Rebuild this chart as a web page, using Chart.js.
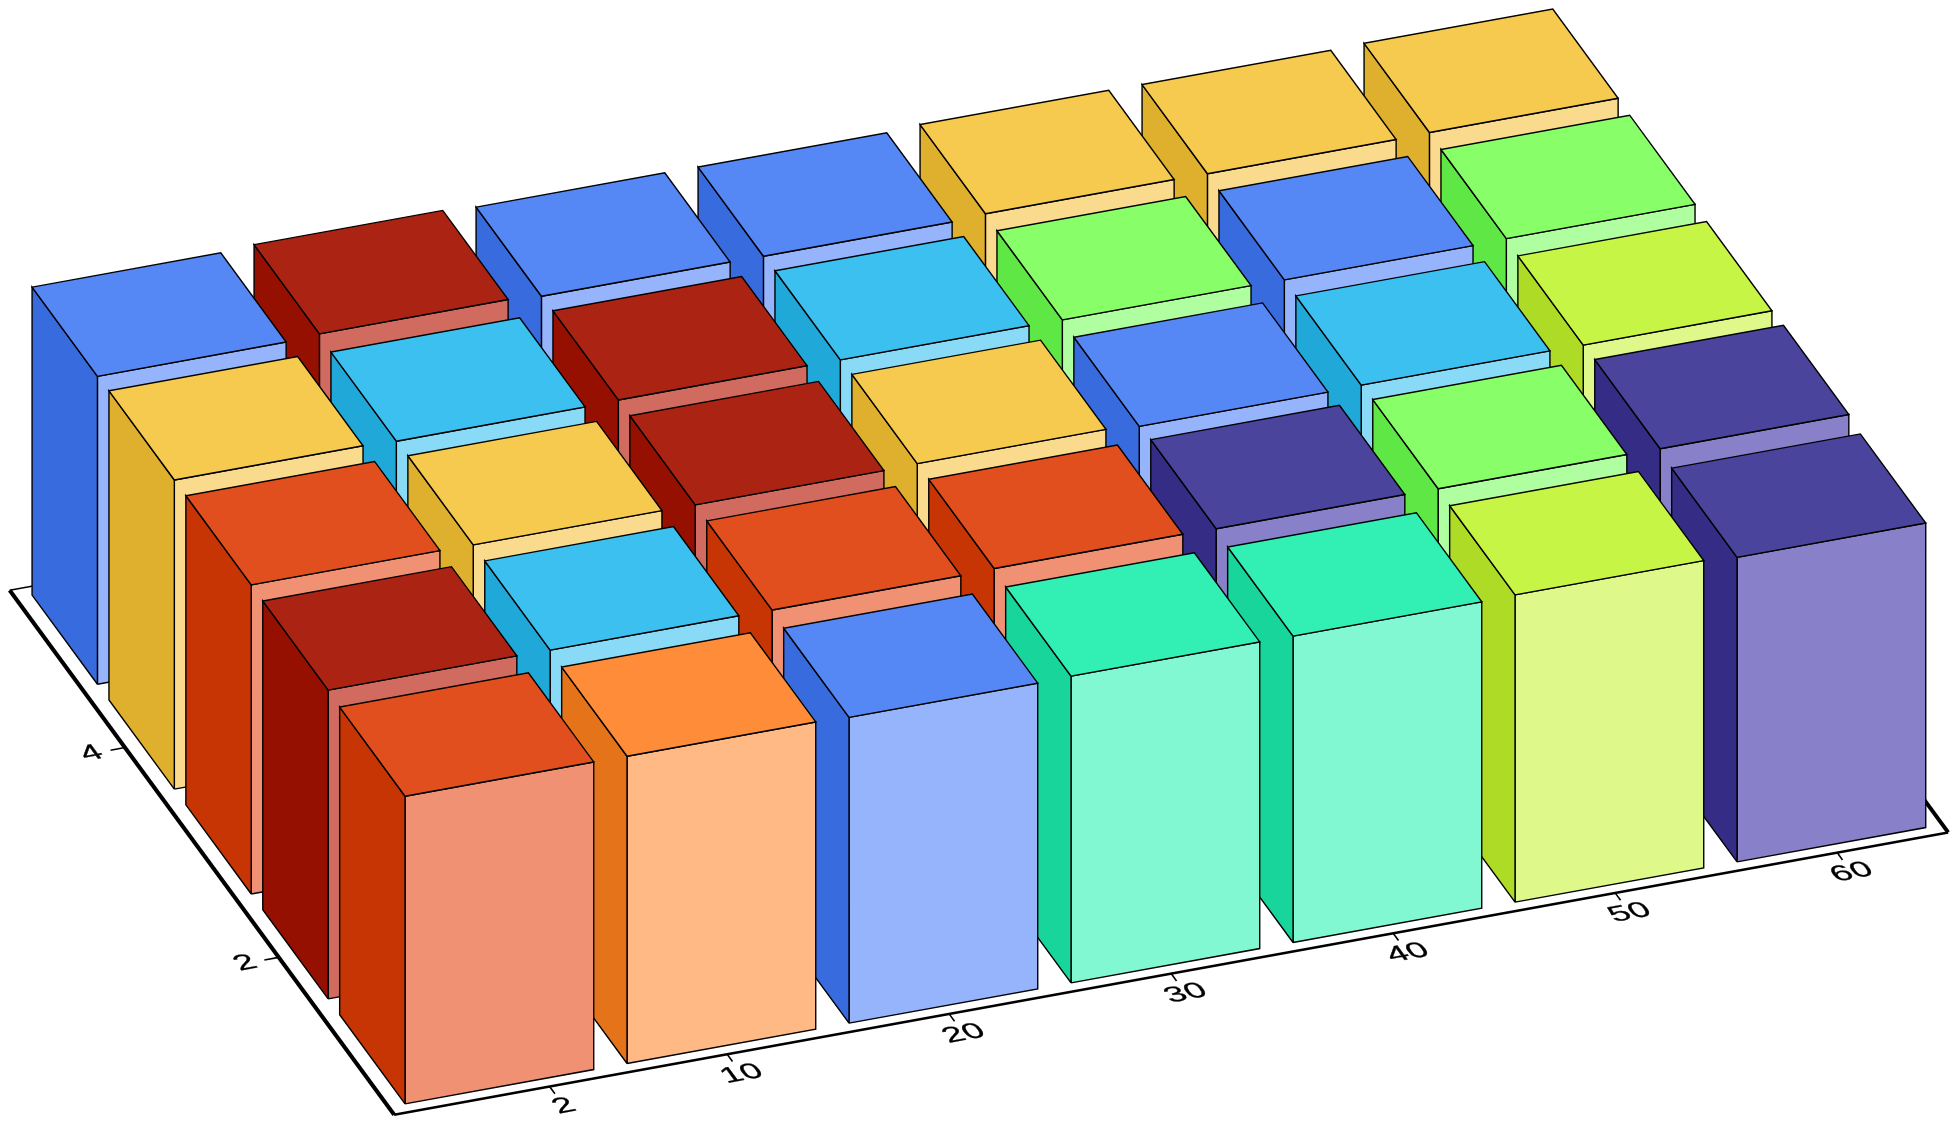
<!DOCTYPE html>
<html>
<head>
<meta charset="utf-8">
<style>
    html, body { margin: 0; padding: 0; background: #fff; }
    canvas { display: block; }
</style>
<script src="https://cdn.jsdelivr.net/npm/chart.js@4/dist/chart.umd.min.js"></script>
</head>
<body>
<canvas id="chart" width="1959" height="1125"></canvas>
<script>
// data
const xPositions = [0, 10, 20, 30, 40, 50, 60];
const yPositions = [1, 2, 3, 4, 5];
const xTicks = [2, 10, 20, 30, 40, 50, 60];
const yTicks = [2, 4];

// one row per y position (front to back)
const barHeights = [
    [0.998, 0.997, 0.992, 0.995, 0.994, 0.997, 0.988],
    [1.002, 1.001, 1.000, 1.004, 1.002, 1.001, 1.000],
    [1.003, 1.002, 1.001, 1.004, 0.994, 0.997, 0.996],
    [1.003, 0.998, 1.001, 1.000, 0.999, 0.998, 1.001],
    [0.999, 1.006, 0.997, 0.996, 1.003, 1.002, 1.005]
];
const barClasses = [
    ['red', 'orange', 'blue', 'teal', 'teal', 'lime', 'indigo'],
    ['maroon', 'cyan', 'red', 'red', 'indigo', 'green', 'indigo'],
    ['red', 'yellow', 'maroon', 'yellow', 'blue', 'cyan', 'lime'],
    ['yellow', 'cyan', 'maroon', 'cyan', 'green', 'blue', 'green'],
    ['blue', 'maroon', 'blue', 'blue', 'yellow', 'yellow', 'yellow']
];

// colours: top, left side, front
const faceColors = {
    blue:   ['#5588f5', '#386bde', '#96b4fb'],
    yellow: ['#f6c94f', '#dfb02e', '#fadb8d'],
    red:    ['#e14f1e', '#c73505', '#ef9172'],
    maroon: ['#ab2313', '#951000', '#d16a5f'],
    cyan:   ['#3cc0ef', '#1fa8d8', '#88daf7'],
    orange: ['#ff8c38', '#e4731a', '#ffb985'],
    teal:   ['#32efb4', '#18d69b', '#81f8d2'],
    green:  ['#88ff69', '#5fe745', '#afffa0'],
    lime:   ['#c6f546', '#aedb26', '#def98a'],
    indigo: ['#4a449c', '#342c85', '#8880c8']
};

// oblique view: where x, y and z units land on the page
const origin = [543.6, 1147];
const unitX = [22.2, -4.033];
const unitY = [-76.9, -104.9];
const unitZ = [0, -308.2];
const barWidth = 8.5;
const barDepth = 0.85;
const xRange = [-5, 65];
const yRange = [0.5, 5.5];

function project(x, y, z) {
    return {
        x: origin[0] + x * unitX[0] + y * unitY[0] + z * unitZ[0],
        y: origin[1] + x * unitX[1] + y * unitY[1] + z * unitZ[1]
    };
}

function polyline(points, opts) {
    return Object.assign({
        data: points,
        showLine: true,
        tension: 0,
        pointRadius: 0,
        pointHoverRadius: 0,
        borderColor: '#000',
        borderWidth: 1.4,
        fill: false
    }, opts);
}

function face(corners, color) {
    const pts = corners.map(c => project(c[0], c[1], c[2]));
    pts.push(pts[0]);
    return polyline(pts, { backgroundColor: color, fill: 'shape' });
}

function barFaces(xc, yc, h, colors) {
    const x0 = xc - barWidth / 2, x1 = xc + barWidth / 2;
    const y0 = yc - barDepth / 2, y1 = yc + barDepth / 2;
    return [
        face([[x0, y0, 0], [x1, y0, 0], [x1, y0, h], [x0, y0, h]], colors[2]),
        face([[x0, y0, 0], [x0, y1, 0], [x0, y1, h], [x0, y0, h]], colors[1]),
        face([[x0, y0, h], [x1, y0, h], [x1, y1, h], [x0, y1, h]], colors[0])
    ];
}

// painted in this order, first entry at the bottom
const layers = [];

// floor frame
const [xa, xb] = xRange;
const [ya, yb] = yRange;
layers.push(polyline([project(xa, yb, 0), project(xb, yb, 0)], { borderWidth: 1.5 }));
layers.push(polyline([project(xb, yb, 0), project(xb, ya, 0)], { borderWidth: 4 }));
layers.push(polyline([project(xa, yb, 0), project(xa, ya, 0)], { borderWidth: 4 }));
layers.push(polyline([project(xa, ya, 0), project(xb, ya, 0)], { borderWidth: 2.5 }));

xTicks.forEach(t => {
    layers.push(polyline([project(t, ya, 0), project(t, ya - 0.07, 0)], { borderWidth: 1.6 }));
});
yTicks.forEach(t => {
    layers.push(polyline([project(xa, t, 0), project(xa - 0.65, t, 0)], { borderWidth: 1.6 }));
});

// back row first, right to left: the view comes from the front left
for (let r = yPositions.length - 1; r >= 0; r--) {
    for (let c = xPositions.length - 1; c >= 0; c--) {
        const colors = faceColors[barClasses[r][c]];
        layers.push(...barFaces(xPositions[c], yPositions[r], barHeights[r][c], colors));
    }
}

// text lies in the floor plane, so it gets sheared with it
const floorLabels = {
    id: 'floorLabels',
    afterDatasetsDraw(chart) {
        const { ctx, scales } = chart;
        const lenX = Math.hypot(unitX[0], unitX[1]);
        const lenY = Math.hypot(unitY[0], unitY[1]);
        const drawLabel = (text, p) => {
            ctx.save();
            ctx.setTransform(
                unitX[0] / lenX * 1.62, unitX[1] / lenX * 1.62,
                -unitY[0] / lenY * 1.15, -unitY[1] / lenY * 1.15,
                scales.x.getPixelForValue(p.x), scales.y.getPixelForValue(p.y)
            );
            ctx.font = '22px "Liberation Sans"';
            ctx.fillStyle = '#000';
            ctx.strokeStyle = '#000';
            ctx.lineWidth = 0.25;
            ctx.textAlign = 'center';
            ctx.textBaseline = 'middle';
            ctx.fillText(text, 0, 0);
            ctx.strokeText(text, 0, 0);
            ctx.restore();
        };
        xTicks.forEach(t => drawLabel(String(t), project(t, ya - 0.19, 0)));
        yTicks.forEach(t => drawLabel(String(t), project(xa - 1.5, t, 0)));
    }
};

new Chart(document.getElementById('chart'), {
    type: 'scatter',
    data: { datasets: layers.slice().reverse() },
    options: {
        responsive: false,
        animation: false,
        events: [],
        layout: { padding: 0 },
        plugins: { legend: { display: false }, tooltip: { enabled: false } },
        scales: {
            x: { type: 'linear', min: 0, max: 1959, display: false },
            y: { type: 'linear', min: 0, max: 1125, reverse: true, display: false }
        }
    },
    plugins: [floorLabels]
});
</script>
</body>
</html>
